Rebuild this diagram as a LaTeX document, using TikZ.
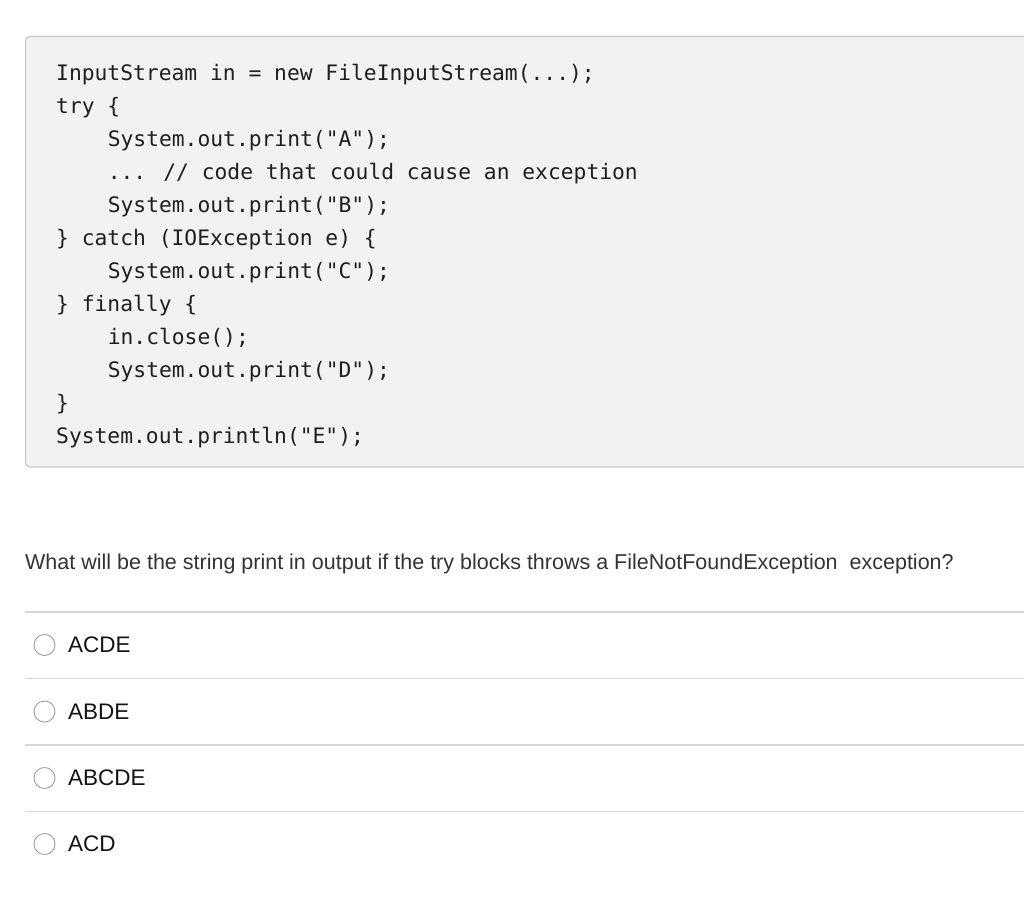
\documentclass[tikz,border=0pt]{standalone}
\usepackage{fontspec}
\setmainfont{Liberation Sans}
\newfontfamily\codefont{DejaVu Sans Mono}
\begin{document}
\begin{tikzpicture}[x=1pt,y=-1pt,
  codeline/.style={anchor=base west,inner sep=0pt,font=\codefont\fontsize{21.3}{25}\selectfont,text=black!88},
  question/.style={anchor=base west,inner sep=0pt,font=\fontsize{21.5}{25}\selectfont,text=black!80},
  optlabel/.style={anchor=base west,inner sep=0pt,font=\fontsize{22.5}{26}\selectfont,text=black!92},
  radio/.style={circle,draw=black!38,fill=white,line width=0.9pt,minimum size=21pt,inner sep=0pt},
  sepline/.style={draw=black!16,line width=1.3pt},
  codebox/.style={draw=black!22,fill=black!5,line width=1.2pt,rounded corners=4pt}]
\useasboundingbox (0,0) rectangle (1024,897);
\fill[white] (0,0) rectangle (1024,897);
% code box
\draw[codebox] (25.5,36.5) rectangle (1040,467);
\node[codeline] (c1) at (56,80) {InputStream in = new FileInputStream(...);};
\node[codeline] (c2) at (56,113) {try \{};
\node[codeline] (c3) at (107.6,146) {System.out.print("A");};
\node[codeline] (c4) at (107.6,179) {... // code that could cause an exception};
\node[codeline] (c5) at (107.6,212) {System.out.print("B");};
\node[codeline] (c6) at (56,245) {\} catch (IOException e) \{};
\node[codeline] (c7) at (107.6,278) {System.out.print("C");};
\node[codeline] (c8) at (56,311) {\} finally \{};
\node[codeline] (c9) at (107.6,344) {in.close();};
\node[codeline] (c10) at (107.6,377) {System.out.print("D");};
\node[codeline] (c11) at (56,410) {\}};
\node[codeline] (c12) at (56,443) {System.out.println("E");};
% question
\node[question] (q) at (25,569) {What will be the string print in output if the try blocks throws a FileNotFoundException\ \ exception?};
% separators
\coordinate (s1a) at (25,612); \coordinate (s1b) at (1024,612);
\coordinate (s2a) at (25,678.5); \coordinate (s2b) at (1024,678.5);
\coordinate (s3a) at (25,745); \coordinate (s3b) at (1024,745);
\coordinate (s4a) at (25,811.5); \coordinate (s4b) at (1024,811.5);
\draw[sepline] (s1a) -- (s1b);
\draw[sepline] (s2a) -- (s2b);
\draw[sepline] (s3a) -- (s3b);
\draw[sepline] (s4a) -- (s4b);
% options
\node[radio] (r1) at (44.5,645) {};
\node[optlabel] (o1) at (68,652.5) {ACDE};
\node[radio] (r2) at (44.5,711.5) {};
\node[optlabel] (o2) at (68,719) {ABDE};
\node[radio] (r3) at (44.5,778) {};
\node[optlabel] (o3) at (68,785) {ABCDE};
\node[radio] (r4) at (44.5,844) {};
\node[optlabel] (o4) at (68,851) {ACD};
\end{tikzpicture}
\end{document}
